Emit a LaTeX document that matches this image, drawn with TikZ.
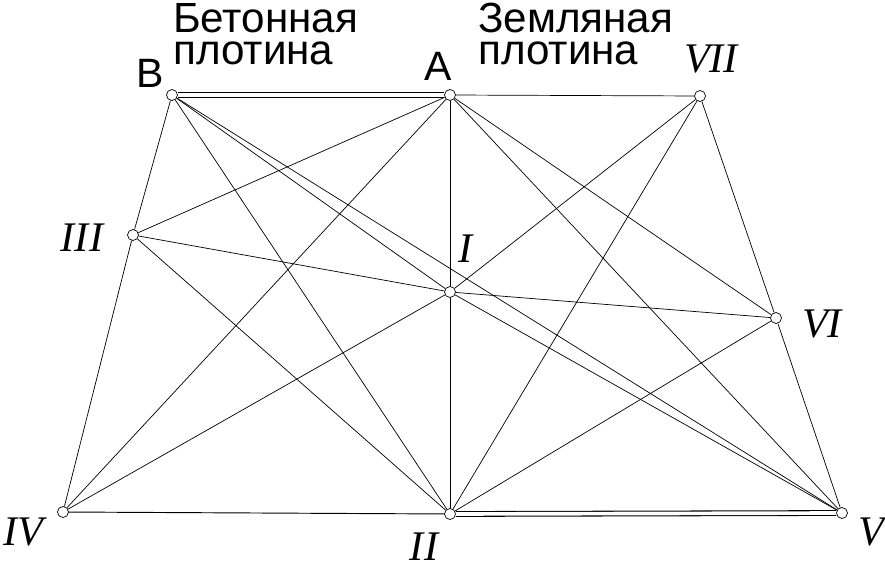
\documentclass[tikz,border=0pt]{standalone}
\usepackage{fontspec}
\setmainfont{Liberation Serif}
\newfontfamily\damfont{Liberation Sans}

\begin{document}
\begin{tikzpicture}[x=0.03cm, y=-0.03cm,
  pnt/.style={draw, circle, fill=white, inner sep=0pt, minimum size=0.33cm, line width=0.6pt},
  num/.style={font=\fontsize{36}{36}\selectfont\itshape, inner sep=0pt, anchor=base},
  lett/.style={font=\damfont\fontsize{35}{35}\selectfont, inner sep=0pt, anchor=base},
  dam/.style={font=\damfont\fontsize{36}{28}\selectfont, align=left, inner sep=0pt, anchor=base west},
  ln/.style={line width=0.6pt},
  bold/.style={line width=0.8pt},
  dbl/.style={double, double distance=0.11cm, line width=0.9pt}]
  \useasboundingbox (0,0) rectangle (885,565);

  \node[pnt] (B) at (172,95) {};
  \node[pnt] (A) at (450,95) {};
  \node[pnt] (VII) at (700,96) {};
  \node[pnt] (III) at (133,235) {};
  \node[pnt] (I) at (450,292) {};
  \node[pnt] (VI) at (776,318) {};
  \node[pnt] (IV) at (63,512) {};
  \node[pnt] (II) at (450,514) {};
  \node[pnt] (V) at (842,513) {};

  \node[lett] (lB) at (150,88) {\char"0412};
  \node[lett] (lA) at (438,81) {\char"0410};
  \node[dam] (concrete) at (173,65) {Бетонная\\плотина};
  \node[dam] (earth) at (478,65) {Земляная\\плотина};
  \node[num] (lVII) at (711,73) {VII};
  \node[num] (lIII) at (82,252) {III};
  \node[num] (lI) at (466,263) {I};
  \node[num] (lVI) at (822,338) {VI};
  \node[num] (lIV) at (23,545) {IV};
  \node[num] (lII) at (424,560) {II};
  \node[num] (lV) at (871,545) {V};

  \draw[dbl] (B) -- (A);
  \draw[dbl] (II) -- (V);
  \draw[ln] (A) -- (VII) -- (VI) -- (V);
  \draw[ln] (B) -- (III) -- (IV);
  \draw[bold] (IV) -- (II);
  \draw[bold] (A) -- (I) -- (II);
  \draw[ln] (B) -- (II);
  \draw[ln] (B) -- (I);
  \draw[ln] (B) -- (V);
  \draw[ln] (A) -- (III);
  \draw[ln] (A) -- (IV);
  \draw[ln] (A) -- (VI);
  \draw[ln] (A) -- (V);
  \draw[ln] (VII) -- (I);
  \draw[ln] (VII) -- (II);
  \draw[ln] (III) -- (I);
  \draw[ln] (III) -- (II);
  \draw[ln] (IV) -- (I);
  \draw[ln] (I) -- (VI);
  \draw[ln] (I) -- (V);
  \draw[ln] (VI) -- (II);
\end{tikzpicture}
\end{document}
